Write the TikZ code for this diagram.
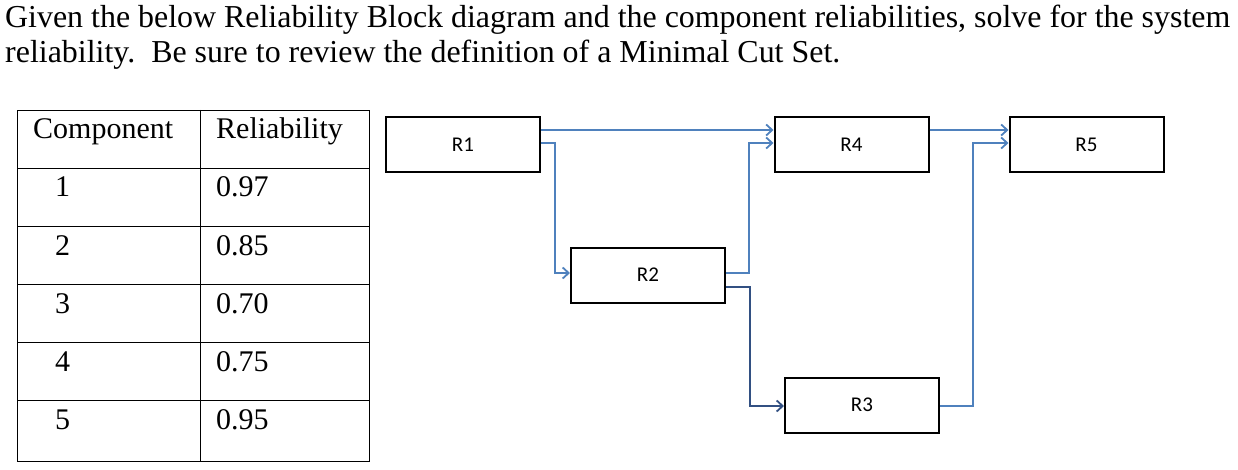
\documentclass[tikz,border=0pt]{standalone}
\usepackage{fontspec}
\setmainfont{Liberation Serif}
\newfontfamily\calfnt{Carlito}
\usetikzlibrary{arrows.meta}
\definecolor{lnblue}{RGB}{79,129,189}
\definecolor{lndark}{RGB}{50,80,130}
\begin{document}
\begin{tikzpicture}[x=1pt,y=-1pt,
  blk/.style={draw,line width=2pt,minimum width=154pt,minimum height=55pt,font=\calfnt\fontsize{21}{21}\selectfont,inner sep=0pt},
  conn/.style={draw=lnblue,line width=1.8pt,-{Straight Barb[length=6pt,width=11pt]}},
  tt/.style={font=\fontsize{30}{30}\selectfont,anchor=base west,inner sep=0pt}]
\useasboundingbox (0,0) rectangle (1238,470);
\node[tt] (t1) at (5,28) {\resizebox{1225pt}{!}{Given the below Reliability Block diagram and the component reliabilities, solve for the system}};
\node[tt] (t2) at (5,63) {\resizebox{835pt}{!}{reliability.\ \ Be sure to review the definition of a Minimal Cut Set.}};
% table
\draw[line width=0.8pt] (17,110) rectangle (369,461);
\draw[line width=0.8pt] (200,110) -- (200,461);
\foreach \y in {168,226,284,342,400} \draw[line width=0.8pt] (17,\y) -- (369,\y);
\node[tt] (h1) at (33,139) {Component};
\node[tt] (h2) at (216,139) {Reliability};
\foreach \i/\v [count=\k] in {1/0.97,2/0.85,3/0.70,4/0.75,5/0.95}{
  \node[tt] (c\k) at (55,{139+58*\k}) {\i};
  \node[tt] (v\k) at (216,{139+58*\k}) {\v};
}
% blocks
\node[blk] (r1) at (463,144.5) {R1};
\node[blk] (r4) at (851.5,144.5) {R4};
\node[blk] (r5) at (1086.5,144.5) {R5};
\node[blk] (r2) at (648,275) {R2};
\node[blk] (r3) at (862,405) {R3};
% connectors
\draw[conn] (r1.east|-0,130) -- (r4.west|-0,130);
\draw[conn] (r1.east|-0,143) -- (555,143) -- (555,273) -- (r2.west|-0,273);
\draw[conn] (r2.east|-0,273) -- (749,273) -- (749,143) -- (r4.west|-0,143);
\draw[conn,draw=lndark] (r2.east|-0,287) -- (750,287) -- (750,406) -- (r3.west|-0,406);
\draw[conn] (r4.east|-0,130) -- (r5.west|-0,130);
\draw[conn] (r3.east|-0,406) -- (973,406) -- (973,143) -- (r5.west|-0,143);
\end{tikzpicture}
\end{document}
